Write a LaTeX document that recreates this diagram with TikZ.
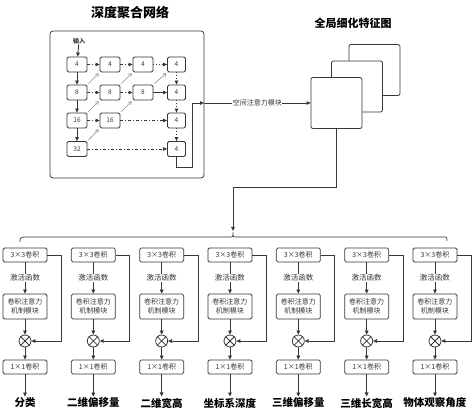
\documentclass[tikz,border=0pt]{standalone}
\usepackage{fontspec}
\setmainfont{Noto Sans CJK SC}
\usetikzlibrary{arrows.meta,calc}
\definecolor{ln}{RGB}{55,55,55}
\definecolor{dgray}{RGB}{140,140,140}
\begin{document}
\begin{tikzpicture}[x=1pt,y=-1pt,line width=0.8pt,color=ln,
  arr/.style={-{Triangle[length=4pt,width=3.6pt]}},
  dd/.style={arr,dash pattern=on 3pt off 2pt on 1pt off 2pt},
  dt/.style={arr,dash pattern=on 1pt off 2pt},
  diag/.style={draw=dgray,line width=0.6pt,-{Straight Barb[length=2.5pt,width=4pt]}},
  dn/.style={draw,rounded corners=1.5pt,minimum width=20pt,minimum height=15pt,inner sep=0pt,fill=white,font=\fontsize{6.5}{7}\selectfont},
  bx/.style={draw,rounded corners=1.5pt,minimum width=44pt,minimum height=14pt,inner sep=0pt,align=center,font=\fontsize{7}{8.5}\selectfont},
  fm/.style={draw,rounded corners=2pt,minimum size=51pt,inner sep=0pt,fill=white},
  lab/.style={inner sep=1pt,font=\bfseries\fontsize{10.5}{11}\selectfont,text=black},
  ttl/.style={inner sep=0pt,font=\bfseries\fontsize{#1}{#1}\selectfont,text=black}]
\useasboundingbox (0,0) rectangle (474,411);
% titles
\node[ttl=13] (t1) at (130,12) {深度聚合网络};
\node[ttl=11] (t2) at (353,23) {全局细化特征图};
% outer box
\node[draw,rounded corners=3pt,minimum width=154pt,minimum height=147pt,inner sep=0pt] (net) at (127,104.5) {};
% input
\node[inner sep=0pt,font=\bfseries\fontsize{6}{6}\selectfont] (in) at (79,41) {输入};
% grid nodes
\node[dn] (n11) at (77,64.5) {4};
\node[dn] (n12) at (110,64.5) {4};
\node[dn] (n13) at (143,64.5) {4};
\node[dn,minimum width=18pt] (n14) at (176.5,64.5) {4};
\node[dn] (n21) at (77,92.5) {8};
\node[dn] (n22) at (110,92.5) {8};
\node[dn] (n23) at (143,92.5) {8};
\node[dn,minimum width=18pt] (n24) at (176.5,92.5) {4};
\node[dn] (n31) at (77,120.5) {16};
\node[dn] (n32) at (110,120.5) {16};
\node[dn,minimum width=18pt] (n34) at (176.5,120.5) {4};
\node[dn] (n41) at (77,149) {32};
\node[dn,minimum width=18pt] (n44) at (176.5,149) {4};
% vertical col1
\draw[arr] (in) -- (n11);
\draw[arr] (n11) -- (n21);
\draw[arr] (n21) -- (n31);
\draw[arr] (n31) -- (n41);
% vertical col4
\draw[dt] (n14) -- (n24);
\draw[dt] (n24) -- (n34);
\draw[dt] (n34) -- (n44);
% horizontals
\draw[dd] (n11) -- (n12);
\draw[dd] (n12) -- (n13);
\draw[dt] (n13) -- (n14);
\draw[dd] (n21) -- (n22);
\draw[dd] (n22) -- (n23);
\draw[arr] (n23) -- (n24);
\draw[dd] (n31) -- (n32);
\draw[dd] (n32) -- (n34);
\draw[dd] (n41) -- (n44);
% diagonals
\draw[diag] ($(n21.north east)+(1,-1)$) -- ($(n12.south west)+(-1,1)$);
\draw[diag] ($(n22.north east)+(1,-1)$) -- ($(n13.south west)+(-1,1)$);
\draw[diag] ($(n23.north east)+(1,-1)$) -- ($(n14.south west)+(-1,1)$);
\draw[diag] ($(n31.north east)+(1,-1)$) -- ($(n22.south west)+(-1,1)$);
\draw[diag] ($(n32.north east)+(1,-1)$) -- ($(n23.south west)+(-1,1)$);
\draw[diag] ($(n41.north east)+(1,-1)$) -- ($(n32.south west)+(-1,1)$);
% feature maps
\node[fm] (fm3) at (374.5,70) {};
\node[fm] (fm2) at (357,86.5) {};
\node[fm] (fm1) at (336.5,103) {};
% output of network
\coordinate (oa) at (192,167);
\coordinate (ob) at (204,103);
\draw[arr] (n44.south) |- (oa) |- (ob);
\draw[arr] (ob) -- node[fill=white,inner sep=0.5pt,font=\fontsize{7}{7}\selectfont]{空间注意力模块} (fm1.west);
% to heads
\coordinate (bc) at (233,187);
\coordinate (bp) at (233,231);
\draw[arr] (fm1.south) |- (bc) -- (bp);
% brace
\draw[line width=0.7pt] (20,242) .. controls (20,238) .. (24,237) -- (229,237) .. controls (233,237) .. (233,232.5) .. controls (233,237) .. (237,237) -- (443,237) .. controls (447,237) .. (447,241);
% heads
\foreach \i/\lab in {0/分类,1/二维偏移量,2/二维宽高,3/坐标系深度,4/三维偏移量,5/三维长宽高,6/物体观察角度}{
  \pgfmathsetmacro\X{25+68.33*\i}
  \node[bx] (a\i) at (\X,255) {3×3卷积};
  \node[bx,minimum height=25pt] (b\i) at (\X,306.5) {卷积注意力\\机制模块};
  \node[circle,draw,minimum size=12pt,inner sep=0pt] (o\i) at (\X,341) {};
  \draw (o\i.north west) -- (o\i.south east) (o\i.north east) -- (o\i.south west);
  \node[bx] (c\i) at (\X,367) {1×1卷积};
  \node[lab] (l\i) at (\X,403) {\lab};
  \draw[arr] (a\i) -- node[fill=white,inner sep=1pt,font=\fontsize{7.5}{8}\selectfont]{激活函数} (b\i);
  \draw[arr] (b\i) -- (o\i);
  \draw[arr] (a\i.east) -- ++(14,0) |- (o\i.east);
  \draw[arr] (o\i) -- (c\i);
  \draw[arr] (c\i) -- (l\i);
}
\end{tikzpicture}
\end{document}
